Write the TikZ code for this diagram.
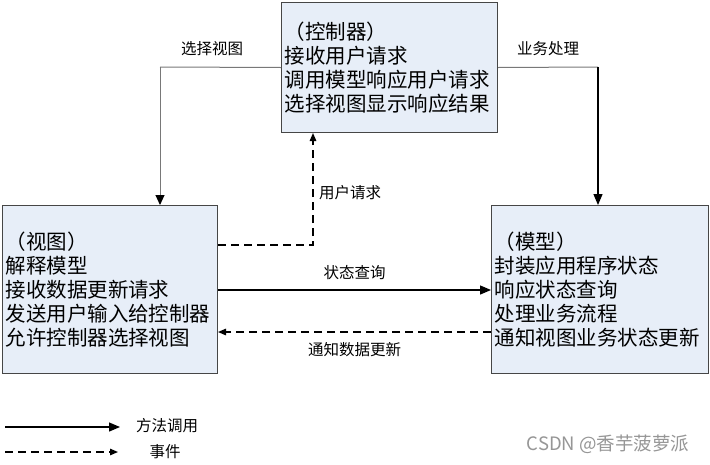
\documentclass[tikz,border=0pt]{standalone}
\usepackage{fontspec}
\usepackage{tikz}
\usetikzlibrary{arrows.meta, calc}
\setmainfont{Noto Sans CJK SC}
\definecolor{boxfill}{RGB}{231, 238, 248}
\definecolor{boxline}{RGB}{70, 70, 70}
\definecolor{thinline}{RGB}{120, 120, 120}
\definecolor{mark}{RGB}{150, 150, 150}
\tikzset{
  mvcbox/.style={draw=boxline, fill=boxfill, line width=1pt, anchor=north west,
    align=left, inner xsep=3pt, inner ysep=0pt,
    font=\fontsize{20.5}{24}\selectfont},
  lbl/.style={font=\fontsize{15.5}{18}\selectfont},
  call/.style={line width=1.3pt, -{Triangle[length=11pt, width=9pt]}},
  event/.style={line width=1.4pt, dash pattern=on 8pt off 5pt,
    -{Triangle[length=8pt, width=6.5pt]}},
}

\begin{document}
\begin{tikzpicture}[x=1pt, y=-1pt]
  \useasboundingbox[fill=white] (0, 0) rectangle (710, 464);

  % the three boxes
  \node[mvcbox, minimum width=216pt, minimum height=130pt, text width=210pt]
    (ctrl) at (281, 2)
    {（控制器）\\接收用户请求\\调用模型响应用户请求\\选择视图显示响应结果};
  \node[mvcbox, minimum width=215pt, minimum height=168pt, text width=209pt]
    (view) at (2, 205)
    {（视图）\\解释模型\\接收数据更新请求\\发送用户输入给控制器\\允许控制器选择视图};
  \node[mvcbox, minimum width=217pt, minimum height=168pt, text width=211pt]
    (model) at (491, 205)
    {（模型）\\封装应用程序状态\\响应状态查询\\处理业务流程\\通知视图业务状态更新};

  % bends of the connectors
  \coordinate (sv) at (160, 67);
  \coordinate (bp) at (598, 67);
  \coordinate (ur) at (313, 245);
  \coordinate (sq) at (0, 290);
  \coordinate (nu) at (0, 332);

  % controller -> view
  \draw[thinline, line width=1pt] (ctrl.west) -- (sv)
    node[lbl, black, pos=0.57, above=8pt] {选择视图};
  \draw[thinline, line width=1pt, -{Triangle[length=10pt, width=9pt]}, black]
    (sv) -- (sv |- view.north);
  \draw[thinline, line width=1pt] (sv) -- ([yshift=10pt]sv |- view.north);

  % controller -> model
  \draw[thinline, line width=1pt] (ctrl.east) -- (bp)
    node[lbl, black, pos=0.5, above=8pt] {业务处理};
  \draw[call] (bp) -- (bp |- model.north);

  % view -> controller
  \draw[event] (view.east |- ur) -- (ur) -- (ur |- ctrl.south)
    node[lbl, pos=0.47, right=2pt] {用户请求};

  % view <-> model
  \draw[call] (view.east |- sq) -- (model.west |- sq)
    node[lbl, midway, above=6pt] {状态查询};
  \draw[event] (model.west |- nu) -- (view.east |- nu)
    node[lbl, midway, below=6pt] {通知数据更新};

  % legend
  \coordinate (la) at (5, 427);
  \coordinate (lb) at (120, 427);
  \coordinate (lc) at (5, 452);
  \coordinate (ld) at (118, 452);
  \draw[call] (la) -- (lb);
  \draw[event] (lc) -- (ld);
  \node[lbl] (lcall) at (167, 426) {方法调用};
  \node[lbl] (levent) at (165, 452) {事件};

  % watermark
  \node[font=\fontsize{18.5}{20}\selectfont, text=mark] (wm) at (608, 444)
    {CSDN @香芋菠萝派};
\end{tikzpicture}
\end{document}
